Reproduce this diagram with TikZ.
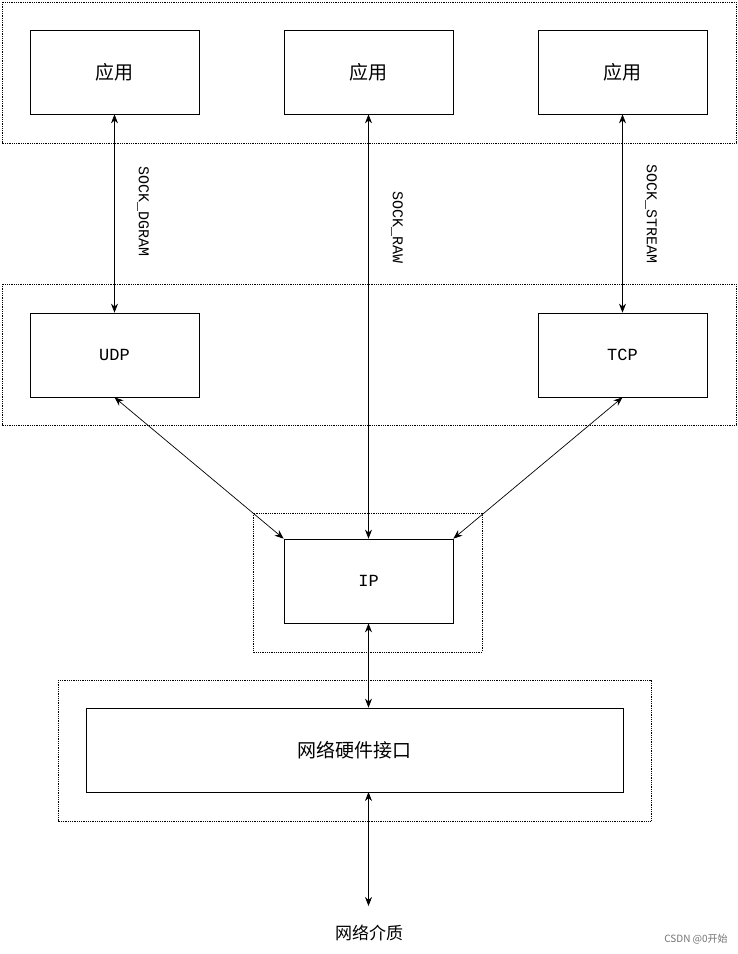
\documentclass[tikz,border=0pt]{standalone}
\usepackage{fontspec}
\setmainfont{Liberation Mono}
\newfontfamily\cjk{Noto Sans CJK SC}
\usetikzlibrary{arrows.meta}
\begin{document}
\begin{tikzpicture}[x=1pt,y=-1pt,
  grp/.style={draw,densely dotted,line width=0.8pt},
  box/.style={draw,line width=0.7pt,inner sep=0pt},
  arr/.style={{Stealth[length=9pt,width=7pt]}-{Stealth[length=9pt,width=7pt]},line width=0.7pt},
  lab/.style={rotate=-90,font=\fontsize{15}{17}\selectfont}]
\useasboundingbox (0,0) rectangle (738,954);
\fill[white] (0,0) rectangle (738,954);
\draw[grp] (2,2) rectangle (736,143);
\draw[grp] (2,284) rectangle (736,425);
\draw[grp] (253,513) rectangle (482,652);
\draw[grp] (58,680) rectangle (651,821);
\node[box,minimum width=169pt,minimum height=84pt] (a1) at (114.5,72) {\cjk\fontsize{19}{22}\selectfont 应用};
\node[box,minimum width=169pt,minimum height=84pt] (a2) at (368.5,72) {\cjk\fontsize{19}{22}\selectfont 应用};
\node[box,minimum width=169pt,minimum height=84pt] (a3) at (622.5,72) {\cjk\fontsize{19}{22}\selectfont 应用};
\node[box,minimum width=169pt,minimum height=84pt] (udp) at (114.5,355) {\fontsize{17}{20}\selectfont UDP};
\node[box,minimum width=169pt,minimum height=84pt] (tcp) at (622.5,355) {\fontsize{17}{20}\selectfont TCP};
\node[box,minimum width=169pt,minimum height=84pt] (ip) at (368.5,581) {\fontsize{17}{20}\selectfont IP};
\node[box,minimum width=537pt,minimum height=84pt] (net) at (354.5,750) {\cjk\fontsize{19}{22}\selectfont 网络硬件接口};
\node (med) at (369,933) {\cjk\fontsize{17}{20}\selectfont 网络介质};
\coordinate (medtop) at (368.5,906);
\coordinate (netbot) at (368.5,792);
\draw[arr] (a1.south) -- (udp.north);
\draw[arr] (a2.south) -- (ip.north);
\draw[arr] (a3.south) -- (tcp.north);
\draw[arr] (udp.south) -- (ip.north west);
\draw[arr] (tcp.south) -- (ip.north east);
\draw[arr] (ip.south) -- (ip.south |- net.north);
\draw[arr] (netbot) -- (medtop);
\node[lab] (l1) at (143,212) {SOCK\_DGRAM};
\node[lab] (l2) at (397,228) {SOCK\_RAW};
\node[lab] (l3) at (651,214) {SOCK\_STREAM};
\node[font=\cjk\fontsize{10}{12}\selectfont,text=black!55] (wm) at (696,939) {CSDN @0开始};
\end{tikzpicture}
\end{document}
